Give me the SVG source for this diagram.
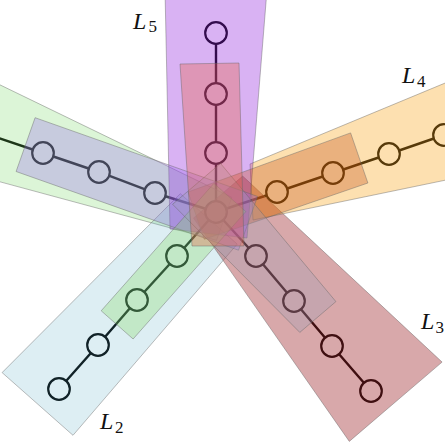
<svg xmlns="http://www.w3.org/2000/svg" width="445" height="445" viewBox="0 0 445 445">
<style>
.edge{stroke:#000;stroke-width:2.4;fill:none}
.node{fill:#fff;stroke:#000;stroke-width:2.2}
.sh{stroke:#666;stroke-opacity:.55;stroke-width:.8}
.lab{font-family:"Liberation Serif","Times New Roman",serif;fill:#111}
.it{font-style:italic;font-size:24px}
.sub{font-size:17px}
</style>
<rect width="445" height="445" fill="#fff"/>
<g id="connectors">
<path class="edge" d="M216,212 L216,153 L216,94 L216,33"/>
<path class="edge" d="M216,212 L277,192 L333,173 L389,154 L444,135"/>
<path class="edge" d="M216,212 L256,256 L294,301 L332,346 L371,391"/>
<path class="edge" d="M216,212 L177,256 L137,300 L98,345 L59,389"/>
<path class="edge" d="M216,212 L155,193 L99,172 L43,153 L-13,134"/>
</g>
<g id="nodes">
<circle id="c" class="node" cx="216" cy="212" r="10.8"/>
<circle id="n5a" class="node" cx="216" cy="153" r="10.8"/>
<circle id="n5b" class="node" cx="216" cy="94" r="10.8"/>
<circle id="n5c" class="node" cx="216" cy="33" r="10.8"/>
<circle id="n4a" class="node" cx="277" cy="192" r="10.8"/>
<circle id="n4b" class="node" cx="333" cy="173" r="10.8"/>
<circle id="n4c" class="node" cx="389" cy="154" r="10.8"/>
<circle id="n4d" class="node" cx="444" cy="135" r="10.8"/>
<circle id="n3a" class="node" cx="256" cy="256" r="10.8"/>
<circle id="n3b" class="node" cx="294" cy="301" r="10.8"/>
<circle id="n3c" class="node" cx="332" cy="346" r="10.8"/>
<circle id="n3d" class="node" cx="371" cy="391" r="10.8"/>
<circle id="n2a" class="node" cx="177" cy="256" r="10.8"/>
<circle id="n2b" class="node" cx="137" cy="300" r="10.8"/>
<circle id="n2c" class="node" cx="98" cy="345" r="10.8"/>
<circle id="n2d" class="node" cx="59" cy="389" r="10.8"/>
<circle id="n1a" class="node" cx="155" cy="193" r="10.8"/>
<circle id="n1b" class="node" cx="99" cy="172" r="10.8"/>
<circle id="n1c" class="node" cx="43" cy="153" r="10.8"/>
</g>
<g id="regions">
<polygon id="L1big" class="sh" fill="rgb(115,215,95)" fill-opacity=".25" points="-48.8,61.2 231.8,197.3 216.5,240.4 -83.6,159.2"/>
<polygon id="L2big" class="sh" fill="rgb(85,170,195)" fill-opacity=".2" points="2.1,372.6 180.3,193.7 237.2,244.1 73,435.3"/>
<polygon id="L3big" class="sh" fill="rgb(157,37,42)" fill-opacity=".4" points="242.7,176.1 442.1,362.1 349.3,441.4 193.5,218.1"/>
<polygon id="L4big" class="sh" fill="rgb(249,166,30)" fill-opacity=".35" points="250,164 483.5,67.1 517.2,165.3 253,220"/>
<polygon id="L5big" class="sh" fill="rgb(146,35,221)" fill-opacity=".35" points="165,-10 267,-10 247,238 170,229"/>
<polygon id="L4small" class="sh" fill="rgb(193,70,10)" fill-opacity=".3" points="350.6,132.9 367.9,183 204.3,239.3 188,192"/>
<polygon id="L1small" class="sh" fill="rgb(153,105,238)" fill-opacity=".3" points="35.1,117.7 257.5,196.4 238.5,250.2 16.1,171.5"/>
<polygon id="L2small" class="sh" fill="rgb(134,218,100)" fill-opacity=".3" points="101.2,310.8 213.9,183.4 245.8,211.6 133.1,339"/>
<polygon id="L3small" class="sh" fill="rgb(156,158,187)" fill-opacity=".3" points="335.9,301.6 299.8,332.4 172.6,204.3 220.5,163.4"/>
<polygon id="L5small" class="sh" fill="rgb(233,98,69)" fill-opacity=".35" points="180,64 239,63 244,246 192,246"/>
</g>
<g id="labels" class="lab">
<text class="it" x="133" y="28.5">L</text><text class="sub" x="148.5" y="32">5</text>
<text class="it" x="402" y="83">L</text><text class="sub" x="417" y="87">4</text>
<text class="it" x="421" y="329">L</text><text class="sub" x="435.5" y="333">3</text>
<text class="it" x="100" y="429">L</text><text class="sub" x="115" y="433">2</text>
</g>
</svg>
